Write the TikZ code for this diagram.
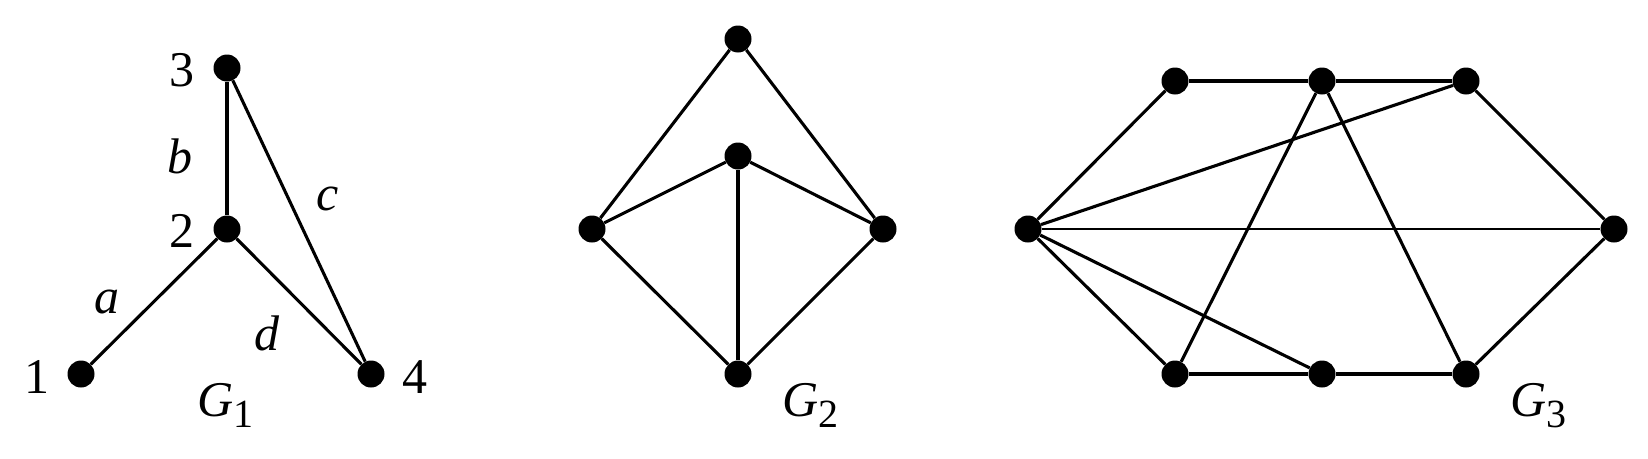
\documentclass[tikz,border=0pt]{standalone}
\usepackage{fontspec}
\setmainfont{Liberation Serif}
\begin{document}
\begin{tikzpicture}[x=1pt,y=-1pt,
  vtx/.style={circle,fill=black,inner sep=0pt,minimum size=27pt},
  edge/.style={line width=3.1pt},
  thinedge/.style={line width=2.2pt},
  lbl/.style={inner sep=0pt,anchor=base west,font=\fontsize{50}{52}\selectfont},
  ilbl/.style={inner sep=0pt,anchor=base west,font=\fontsize{50}{52}\selectfont\itshape}]
\useasboundingbox (0,0) rectangle (1648,458);
% G1
\node[vtx] (a3) at (227,68) {};
\node[vtx] (a2) at (227,229) {};
\node[vtx] (a1) at (81,374) {};
\node[vtx] (a4) at (371,374) {};
\draw[edge] (a3) -- (a2);
\draw[edge] (a3) -- (a4);
\draw[edge] (a2) -- (a1);
\draw[edge] (a2) -- (a4);
\node[lbl] (n3) at (169,86) {3};
\node[lbl] (n2) at (169,247) {2};
\node[lbl] (n1) at (24,393) {1};
\node[lbl] (n4) at (402,393) {4};
\node[ilbl] (lb) at (167,173) {b};
\node[ilbl] (lc) at (316,210) {c};
\node[ilbl] (la) at (94,313) {a};
\node[ilbl] (ld) at (254,350) {d};
\node[ilbl] (g1) at (197,416) {G\raisebox{-11pt}{\upshape\fontsize{40}{42}\selectfont 1}};
% G2
\node[vtx] (bt) at (738,39) {};
\node[vtx] (bm) at (738,156) {};
\node[vtx] (bl) at (592,229) {};
\node[vtx] (br) at (883,229) {};
\node[vtx] (bb) at (738,374) {};
\draw[edge] (bt) -- (bl);
\draw[edge] (bt) -- (br);
\draw[edge] (bm) -- (bl);
\draw[edge] (bm) -- (br);
\draw[edge] (bm) -- (bb);
\draw[edge] (bl) -- (bb);
\draw[edge] (br) -- (bb);
\node[ilbl] (g2) at (782,416) {G\raisebox{-11pt}{\upshape\fontsize{40}{42}\selectfont 2}};
% G3
\node[vtx] (cl) at (1028,229) {};
\node[vtx] (ct1) at (1175,81) {};
\node[vtx] (ct2) at (1322,81) {};
\node[vtx] (ct3) at (1466,81) {};
\node[vtx] (cr) at (1614,229) {};
\node[vtx] (cb1) at (1175,374) {};
\node[vtx] (cb2) at (1322,374) {};
\node[vtx] (cb3) at (1466,374) {};
\draw[edge] (cl) -- (ct1);
\draw[edge] (ct1) -- (ct2);
\draw[edge] (ct2) -- (ct3);
\draw[edge] (ct3) -- (cr);
\draw[edge] (cr) -- (cb3);
\draw[edge] (cb3) -- (cb2);
\draw[edge] (cb2) -- (cb1);
\draw[edge] (cb1) -- (cl);
\draw[edge] (cl) -- (ct3);
\draw[thinedge] (cl) -- (cr);
\draw[edge] (cl) -- (cb2);
\draw[edge] (ct2) -- (cb1);
\draw[edge] (ct2) -- (cb3);
\node[ilbl] (g3) at (1510,416) {G\raisebox{-11pt}{\upshape\fontsize{40}{42}\selectfont 3}};
\end{tikzpicture}
\end{document}
